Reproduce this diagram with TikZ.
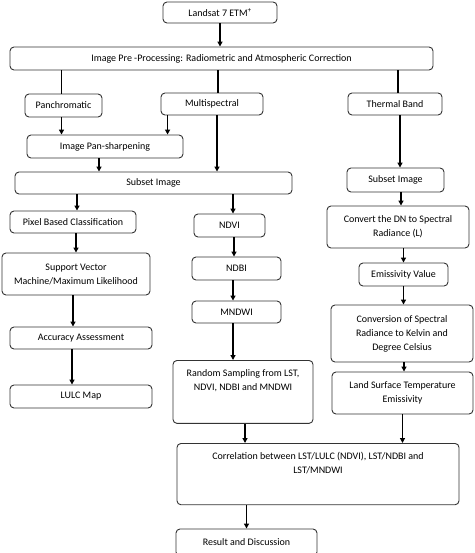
\documentclass[tikz,border=0pt]{standalone}
\usepackage{fontspec}
\setmainfont{Carlito}
\usetikzlibrary{arrows.meta}
\begin{document}
\begin{tikzpicture}[x=1pt,y=-1pt,
		procbox/.style={draw=black!80,line width=0.9pt,rounded corners=4pt,align=center,inner sep=2pt,font=\fontsize{10}{14}\selectfont},
		toptext/.style={anchor=north,inner ysep=9pt},
		arr/.style={-{Triangle[length=5pt,width=5pt]},line width=1.3pt},
		link/.style={line width=1.3pt}]
	\useasboundingbox (0,0) rectangle (474,553);
	% top of the chart
	\node[procbox,minimum width=114pt,minimum height=21pt] (landsat) at (220,12.5) {Landsat 7 ETM\textsuperscript{+}};
	\node[procbox,minimum width=423pt,minimum height=23pt] (prep) at (221.5,58.5) {Image Pre -Processing: Radiometric and Atmospheric Correction};
	\node[procbox,minimum width=77pt,minimum height=23pt] (pan) at (63.5,105.5) {Panchromatic};
	\node[procbox,minimum width=102pt,minimum height=22pt] (multi) at (212,104) {Multispectral};
	\node[procbox,minimum width=94pt,minimum height=22pt] (thermal) at (395,104) {Thermal Band};
	\node[procbox,minimum width=156pt,minimum height=23pt] (pansharp) at (105,146.5) {Image Pan-sharpening};
	\node[procbox,minimum width=277pt,minimum height=22pt] (subl) at (153.5,183) {Subset Image};
	\node[procbox,minimum width=97pt,minimum height=24pt] (subr) at (395.5,180) {Subset Image};
	% left column
	\node[procbox,minimum width=126pt,minimum height=22pt] (pixel) at (73,222) {Pixel Based Classification};
	\node[procbox,minimum width=148pt,minimum height=42pt] (svm) at (76,274) {Support Vector\\Machine/Maximum Likelihood};
	\node[procbox,minimum width=142pt,minimum height=22pt] (accuracy) at (81,338) {Accuracy Assessment};
	\node[procbox,minimum width=142pt,minimum height=23pt] (lulc) at (81,396.5) {LULC Map};
	% middle column
	\node[procbox,minimum width=71pt,minimum height=23pt] (ndvi) at (229.5,225.5) {NDVI};
	\node[procbox,minimum width=89pt,minimum height=23pt] (ndbi) at (236.5,268.5) {NDBI};
	\node[procbox,minimum width=89pt,minimum height=22pt] (mndwi) at (236.5,312) {MNDWI};
	\node[procbox,toptext,minimum width=140pt,text depth=24pt] (random) at (243,360) {Random Sampling from LST,\\NDVI, NDBI and MNDWI};
	% right column
	\node[procbox,minimum width=142pt,minimum height=42pt] (convert) at (398,227) {Convert the DN to Spectral\\Radiance (L)};
	\node[procbox,minimum width=89pt,minimum height=23pt] (emis) at (403.5,274.5) {Emissivity Value};
	\node[procbox,minimum width=142pt,minimum height=57pt] (conversion) at (402,333.5) {Conversion of Spectral\\Radiance to Kelvin and\\Degree Celsius};
	\node[procbox,minimum width=141pt,minimum height=42pt] (lst) at (402.5,393) {Land Surface Temperature\\Emissivity};
	% bottom
	\node[procbox,toptext,minimum width=282pt,text depth=22pt] (corr) at (318,443) {Correlation between LST/LULC (NDVI), LST/NDBI and\\LST/MNDWI};
	\node[procbox,minimum width=141pt,minimum height=27pt] (result) at (246.5,542.5) {Result and Discussion};
	% connectors
	\draw[arr] (landsat.south) -- (landsat.south |- prep.north);
	\draw[link] ([xshift=-2pt]pan.north |- prep.south) -- ([xshift=-2pt]pan.north);
	\draw[link] ([xshift=6pt]multi.north |- prep.south) -- ([xshift=6pt]multi.north);
	\draw[link] ([xshift=3pt]thermal.north |- prep.south) -- ([xshift=3pt]thermal.north);
	\draw[arr] ([xshift=-2pt]pan.south) -- ([xshift=-2pt]pan.south |- pansharp.north);
	\draw[arr] ([xshift=7pt]multi.south west) -- ([xshift=7pt]multi.south west |- pansharp.north);
	\draw[arr] ([xshift=5pt]multi.south) -- ([xshift=5pt]multi.south |- subl.north);
	\draw[arr] ([xshift=-6pt]pansharp.south) -- ([xshift=-6pt]pansharp.south |- subl.north);
	\draw[arr] ([xshift=5pt]thermal.south) -- ([xshift=5pt]thermal.south |- subr.north);
	\draw[arr] ([xshift=4pt]pixel.north |- subl.south) -- ([xshift=4pt]pixel.north);
	\draw[arr] ([xshift=3.5pt]ndvi.north |- subl.south) -- ([xshift=3.5pt]ndvi.north);
	\draw[arr] ([xshift=5.5pt]subr.south) -- ([xshift=5.5pt]subr.south |- convert.north);
	\draw[arr] (emis.north |- convert.south) -- (emis.north);
	\draw[arr] (emis.south) -- (emis.south |- conversion.north);
	\draw[arr] ([xshift=2pt]conversion.south) -- ([xshift=2pt]conversion.south |- lst.north);
	\draw[arr] (svm.north |- pixel.south) -- (svm.north);
	\draw[arr] ([xshift=-3pt]svm.south) -- ([xshift=-3pt]svm.south |- accuracy.north);
	\draw[arr] ([xshift=-9pt]accuracy.south) -- ([xshift=-9pt]accuracy.south |- lulc.north);
	\draw[arr] ([xshift=-2.5pt]ndbi.north |- ndvi.south) -- ([xshift=-2.5pt]ndbi.north);
	\draw[arr] ([xshift=-3.5pt]ndbi.south) -- ([xshift=-3.5pt]ndbi.south |- mndwi.north);
	\draw[arr] ([xshift=-3.5pt]mndwi.south) -- ([xshift=-3.5pt]mndwi.south |- random.north);
	\draw[arr] ([xshift=2pt]random.south) -- ([xshift=2pt]random.south |- corr.north);
	\draw[arr] (lst.south) -- (lst.south |- corr.north);
	\draw[arr] (result.north |- corr.south) -- (result.north);
\end{tikzpicture}
\end{document}
